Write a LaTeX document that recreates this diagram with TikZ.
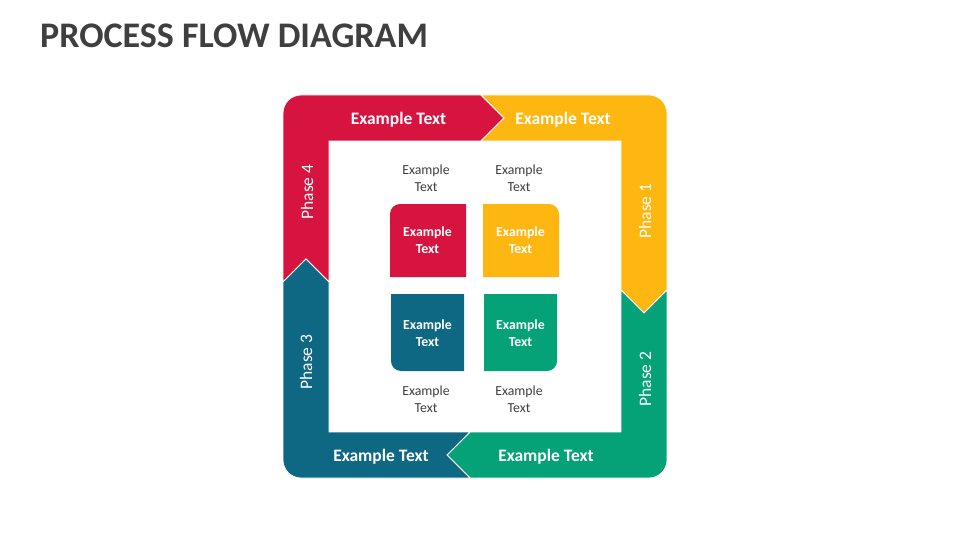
\documentclass[tikz,border=0pt]{standalone}
\usepackage{fontspec}
\setmainfont{Carlito}
\definecolor{cred}{HTML}{D71440}
\definecolor{cyel}{HTML}{FEB711}
\definecolor{cblue}{HTML}{0E6884}
\definecolor{cgreen}{HTML}{05A177}
\definecolor{ctitle}{HTML}{3F3F3F}
\definecolor{csmall}{HTML}{404040}
\begin{document}
\begin{tikzpicture}[x=1pt,y=1pt,
  seg/.style={draw=white,line width=0.8pt,line join=miter},
  bandtext/.style={text=white,font=\fontsize{17.5}{21}\selectfont\bfseries,inner sep=0pt},
  phasetext/.style={text=white,font=\fontsize{17.5}{21}\selectfont,rotate=90,inner sep=0pt},
  smalltext/.style={text=csmall,font=\fontsize{13.8}{16.7}\selectfont,align=center,inner sep=0pt},
  sqtext/.style={text=white,font=\fontsize{13.8}{17}\selectfont\bfseries,align=center,inner sep=0pt}]
\useasboundingbox (0,0) rectangle (960,-540);
\fill[white] (0,0) rectangle (960,-540);
% title
\node[anchor=base west,text=ctitle,font=\fontsize{36}{40}\selectfont\bfseries,inner sep=0pt] (title) at (40,-47.3) {PROCESS FLOW DIAGRAM};
% frame segments
\fill[cred,seg] (283,-282) -- (283,-113) arc[start angle=180,end angle=90,radius=18] -- (481,-95) -- (504,-118) -- (481,-141) -- (329,-141) -- (329,-282) -- (306,-259) -- cycle;
\fill[cyel,seg] (481,-95) -- (649,-95) arc[start angle=90,end angle=0,radius=18] -- (667,-290) -- (644,-313) -- (621,-290) -- (621,-141) -- (481,-141) -- (504,-118) -- cycle;
\fill[cgreen,seg] (667,-290) -- (667,-460) arc[start angle=0,end angle=-90,radius=18] -- (470,-478) -- (447,-455) -- (470,-432) -- (621,-432) -- (621,-290) -- (644,-313) -- cycle;
\fill[cblue,seg] (470,-478) -- (301,-478) arc[start angle=270,end angle=180,radius=18] -- (283,-282) -- (306,-259) -- (329,-282) -- (329,-432) -- (470,-432) -- (447,-455) -- cycle;
% band texts
\node[bandtext] (t1) at (398.5,-119.5) {Example Text};
\node[bandtext] (t2) at (563,-119.5) {Example Text};
\node[bandtext] (t3) at (546,-456.5) {Example Text};
\node[bandtext] (t4) at (381,-456.5) {Example Text};
\node[phasetext] (p1) at (645,-211) {Phase 1};
\node[phasetext] (p2) at (645,-379) {Phase 2};
\node[phasetext] (p3) at (306,-362) {Phase 3};
\node[phasetext] (p4) at (307,-192) {Phase 4};
% squares
\fill[cred] (390,-277) -- (390,-214) arc[start angle=180,end angle=90,radius=10] -- (466,-204) -- (466,-277) -- cycle;
\fill[cyel] (483,-277) -- (483,-204) -- (549,-204) arc[start angle=90,end angle=0,radius=10] -- (559,-277) -- cycle;
\fill[cblue] (391,-294) -- (464,-294) -- (464,-371) -- (401,-371) arc[start angle=270,end angle=180,radius=10] -- cycle;
\fill[cgreen] (484,-294) -- (557,-294) -- (557,-361) arc[start angle=0,end angle=-90,radius=10] -- (484,-371) -- cycle;
\node[sqtext] (s1) at (427.5,-240.5) {Example\\Text};
\node[sqtext] (s2) at (520.5,-240.5) {Example\\Text};
\node[sqtext] (s3) at (427.5,-333) {Example\\Text};
\node[sqtext] (s4) at (520.5,-333) {Example\\Text};
% small texts
\node[smalltext] (a1) at (426,-178) {Example\\Text};
\node[smalltext] (a2) at (519,-178) {Example\\Text};
\node[smalltext] (a3) at (426,-399) {Example\\Text};
\node[smalltext] (a4) at (519,-399) {Example\\Text};
\end{tikzpicture}
\end{document}
